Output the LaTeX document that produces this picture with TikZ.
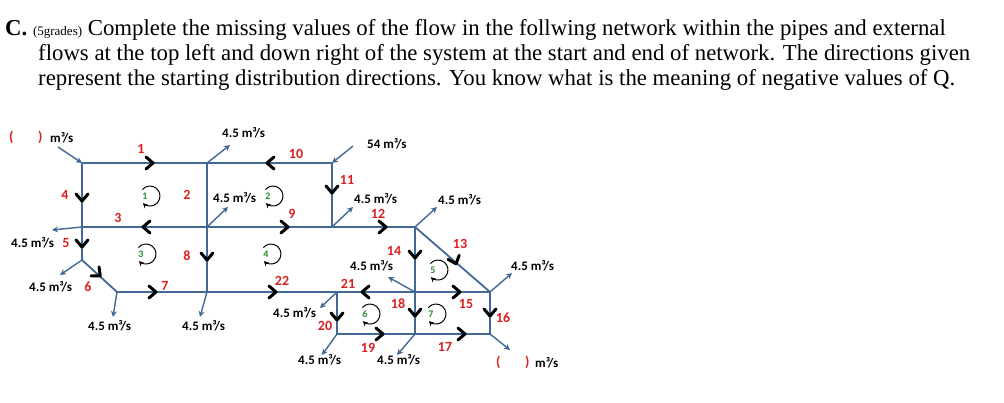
\documentclass[tikz,border=0pt]{standalone}
\usepackage{fontspec}
\setmainfont{Liberation Serif}
\newfontfamily\calfont{Carlito}
\usetikzlibrary{arrows.meta}
\definecolor{pipe}{RGB}{68,104,150}
\definecolor{rednum}{RGB}{220,30,30}
\definecolor{grn}{RGB}{40,140,40}
\tikzset{
  p/.style={draw=pipe,line width=1.8pt},
  ext/.style={draw=pipe,line width=1.4pt,-{Stealth[length=6pt,width=6pt]}},
  chev/.pic={\draw[line width=3pt,line cap=round,line join=round] (-4,-6)--(3,0)--(-4,6);},
  loopsym/.pic={\draw[line width=1pt,-{Stealth[length=5pt,width=5pt]}] (220:10) arc[start angle=220,end angle=495,radius=10];},
  num/.style={text=rednum,font=\calfont\bfseries\fontsize{14}{14}\selectfont,inner sep=0pt},
  flo/.style={font=\calfont\bfseries\fontsize{13}{13}\selectfont,inner sep=0pt,anchor=west},
  ln/.style={text=grn,font=\calfont\bfseries\fontsize{10}{10}\selectfont,inner sep=0pt}
}
\begin{document}
\begin{tikzpicture}[x=1pt,y=-1pt]
\useasboundingbox (0,0) rectangle (1004,403);
% header text
\node[anchor=base west,inner sep=0pt,font=\fontsize{22.8}{25}\selectfont] (t1) at (5,36) {\textbf{C.} {\fontsize{13}{13}\selectfont (5grades)} Complete the missing values of the flow in the follwing network within the pipes and external};
\node[anchor=base west,inner sep=0pt,font=\fontsize{22.8}{25}\selectfont] (t2) at (38,61) {flows at the top left and down right of the system at the start and end of network. The directions given};
\node[anchor=base west,inner sep=0pt,font=\fontsize{22.8}{25}\selectfont] (t3) at (38,86) {represent the starting distribution directions. You know what is the meaning of negative values of Q.};
% nodes
\coordinate (A) at (82,163); \coordinate (B) at (207,163); \coordinate (C) at (332,163);
\coordinate (D) at (82,227); \coordinate (E) at (207,227); \coordinate (F) at (332,227); \coordinate (G) at (415,227);
\coordinate (H) at (82,260); \coordinate (I) at (117,292); \coordinate (J) at (207,292);
\coordinate (K) at (337,292); \coordinate (L) at (415,292); \coordinate (M) at (490,292);
\coordinate (N) at (337,334); \coordinate (O) at (415,334); \coordinate (P) at (490,334);
% pipes
\path[p] (A)--(B)--(C); \path[p] (D)--(E)--(F)--(G);
\path[p] (A)--(D)--(H)--(I)--(J)--(K)--(L)--(M);
\path[p] (B)--(E)--(J); \path[p] (C)--(F);
\path[p] (G)--(L)--(O); \path[p] (G)--(M)--(P);
\path[p] (K)--(N)--(O)--(P);
% external
\coordinate (a0) at (58,147); \coordinate (c0) at (353,146);
\coordinate (b1) at (230,145); \coordinate (e1) at (228,207); \coordinate (d1) at (52,230);
\coordinate (h1) at (60,275); \coordinate (i1) at (113,317); \coordinate (j1) at (200,317);
\coordinate (k1) at (320,308); \coordinate (n1) at (322,355); \coordinate (o1) at (397,355);
\coordinate (p1) at (510,350); \coordinate (f1) at (353,207); \coordinate (g1) at (437,207);
\coordinate (l1) at (388,277); \coordinate (m1) at (512,273);
\path[ext] (a0)--(A); \path[ext] (c0)--(C);
\path[ext] (B)--(b1); \path[ext] (E)--(e1); \path[ext] (D)--(d1); \path[ext] (H)--(h1);
\path[ext] (I)--(i1); \path[ext] (J)--(j1); \path[ext] (K)--(k1); \path[ext] (N)--(n1);
\path[ext] (O)--(o1); \path[ext] (P)--(p1); \path[ext] (F)--(f1); \path[ext] (G)--(g1);
\path[ext] (L)--(l1); \path[ext] (M)--(m1);
% chevrons
\pic at (150,163) {chev}; \pic[rotate=180] at (270,163) {chev};
\pic[rotate=-90] at (82,198) {chev}; \pic[rotate=-90] at (332,190) {chev};
\pic[rotate=180] at (146,227) {chev}; \pic at (285,227) {chev}; \pic at (383,227) {chev};
\pic[rotate=-90] at (82,244) {chev}; \pic[rotate=-90] at (207,257) {chev};
\pic[rotate=-42] at (98,274) {chev}; \pic at (153,292) {chev}; \pic at (273,292) {chev};
\pic[rotate=-90] at (415,255) {chev}; \pic[rotate=-70] at (455,261) {chev};
\pic[rotate=180] at (365,292) {chev}; \pic at (457,292) {chev};
\pic[rotate=-90] at (337,317) {chev}; \pic[rotate=-90] at (415,313) {chev}; \pic[rotate=-90] at (490,313) {chev};
\pic at (380,334) {chev}; \pic at (462,334) {chev};
% loops
\foreach \n/\x/\y in {1/150/196,2/273/196,3/146/254,4/271/254,5/438/270,6/370/314,7/436/314}{
  \pic at (\x,\y) {loopsym}; \node[ln] (l\n) at (\x-5,\y) {\n};}
% pipe numbers
\foreach \n/\x/\y in {1/141/149,10/296/154,4/65/195,2/187/195,9/292/214,11/347/180,12/378/214,3/118/218,5/66/243,8/187/256,7/165/286,22/282/281,6/88/287,13/460/244,14/394/251,21/348/284,18/398/304,15/466/304,16/503/318,20/325/326,19/368/348,17/445/347}
  {\node[num] (n\n) at (\x,\y) {\n};}
% flow labels
\node[flo] (fb) at (222,133) {4.5 m³/s};
\node[flo] (fe) at (213,198) {4.5 m³/s};
\node[flo] (ff) at (354,199) {4.5 m³/s};
\node[flo] (fg) at (438,200) {4.5 m³/s};
\node[flo] (fd) at (11,243) {4.5 m³/s};
\node[flo] (fh) at (29,287) {4.5 m³/s};
\node[flo] (fi) at (88,326) {4.5 m³/s};
\node[flo] (fj) at (182,326) {4.5 m³/s};
\node[flo] (fk) at (273,313) {4.5 m³/s};
\node[flo] (fn) at (298,360) {4.5 m³/s};
\node[flo] (fo) at (377,360) {4.5 m³/s};
\node[flo] (fl) at (350,266) {4.5 m³/s};
\node[flo] (fm) at (511,266) {4.5 m³/s};
\node[flo] (fc) at (367,144) {54 m³/s};
\node[num,anchor=west] (o1) at (9,137) {(};
\node[num,anchor=west] (o2) at (38,137) {)};
\node[flo] (fa) at (50,138) {m³/s};
\node[num,anchor=west] (o3) at (496,362) {(};
\node[num,anchor=west] (o4) at (525,362) {)};
\node[flo] (fp) at (535,363) {m³/s};
\end{tikzpicture}
\end{document}
